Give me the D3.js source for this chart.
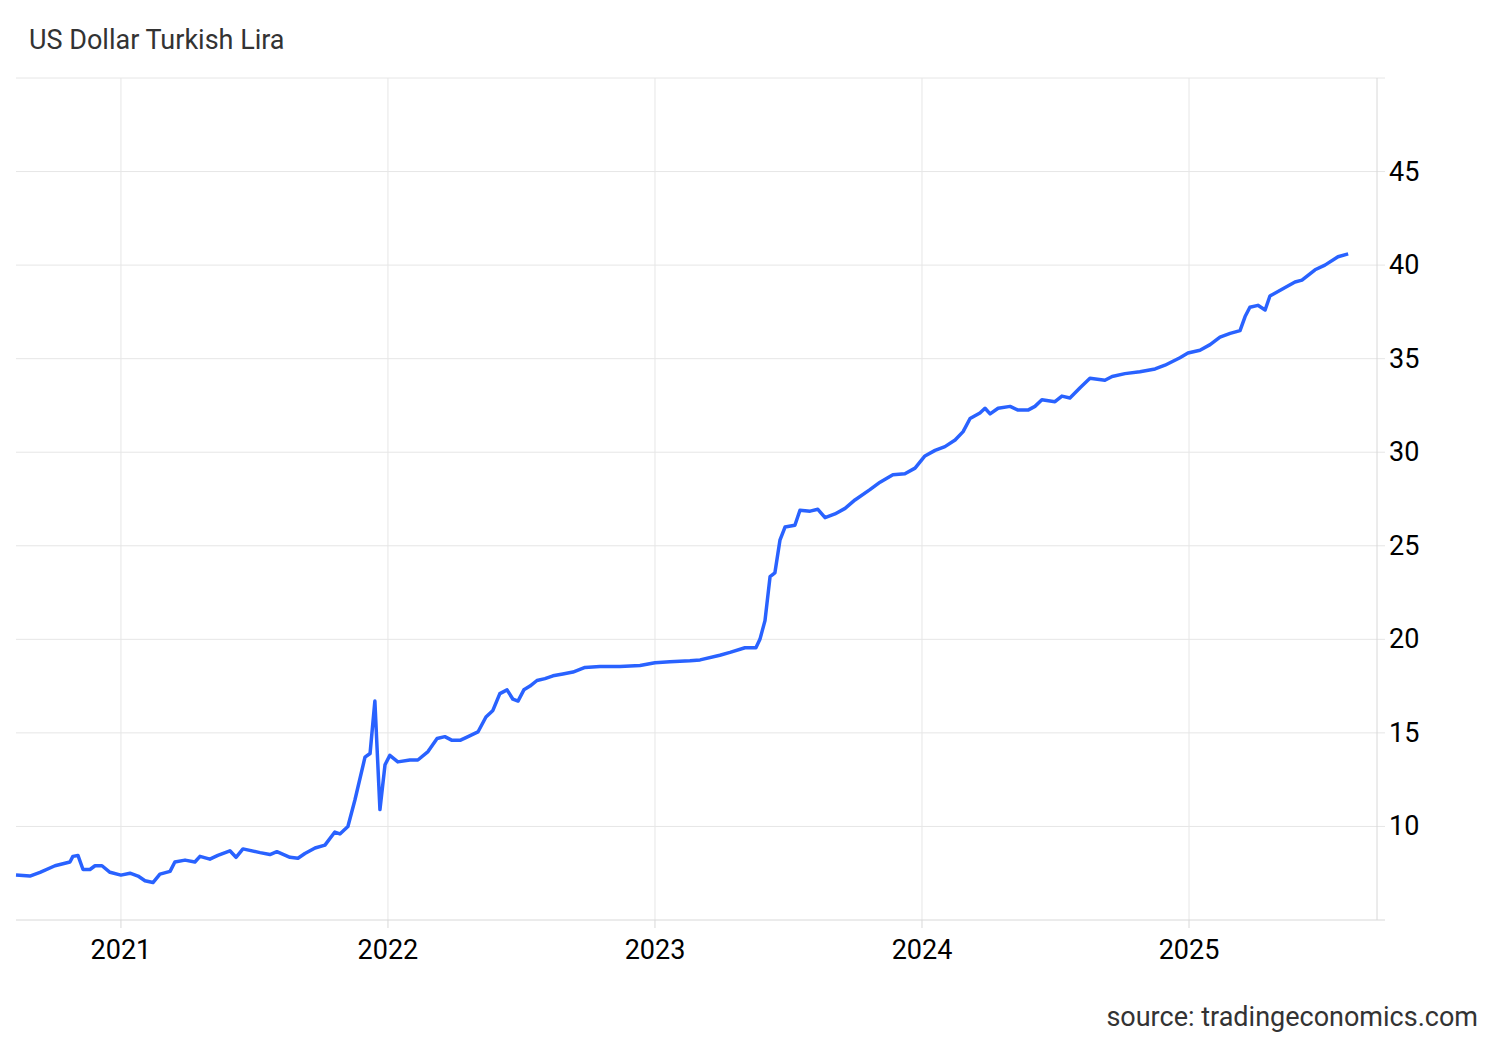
<!DOCTYPE html>
<html>
<head>
<meta charset="utf-8">
<script src="https://cdn.jsdelivr.net/npm/d3@7"></script>
<style>
  body { margin: 0; background: #fff; }
  text { font-family: Roboto, "Liberation Sans", sans-serif; }
</style>
</head>
<body>
<div id="chart"></div>
<script>
// decimal years of each reading
const years = [
  2020.607, 2020.659, 2020.697, 2020.753, 2020.809, 2020.820, 2020.839, 2020.858, 2020.884, 2020.903,
  2020.929, 2020.959, 2021.000, 2021.034, 2021.064, 2021.090, 2021.120, 2021.146, 2021.184, 2021.202,
  2021.240, 2021.277, 2021.296, 2021.333, 2021.363, 2021.408, 2021.431, 2021.457, 2021.521, 2021.558,
  2021.584, 2021.633, 2021.663, 2021.689, 2021.727, 2021.764, 2021.801, 2021.820, 2021.850, 2021.876,
  2021.914, 2021.933, 2021.951, 2021.970, 2021.989, 2022.007, 2022.037, 2022.082, 2022.112, 2022.150,
  2022.184, 2022.213, 2022.240, 2022.270, 2022.300, 2022.337, 2022.367, 2022.393, 2022.419, 2022.446,
  2022.468, 2022.487, 2022.509, 2022.532, 2022.558, 2022.588, 2022.618, 2022.655, 2022.693, 2022.738,
  2022.794, 2022.869, 2022.944, 2023.000, 2023.056, 2023.131, 2023.169, 2023.243, 2023.281, 2023.337,
  2023.378, 2023.393, 2023.412, 2023.431, 2023.449, 2023.468, 2023.487, 2023.524, 2023.543, 2023.581,
  2023.610, 2023.637, 2023.674, 2023.712, 2023.749, 2023.805, 2023.843, 2023.891, 2023.936, 2023.974,
  2024.011, 2024.049, 2024.086, 2024.124, 2024.154, 2024.180, 2024.217, 2024.236, 2024.255, 2024.285,
  2024.330, 2024.360, 2024.397, 2024.423, 2024.449, 2024.498, 2024.524, 2024.554, 2024.592, 2024.629,
  2024.685, 2024.712, 2024.760, 2024.816, 2024.873, 2024.910, 2024.966, 2024.996, 2025.041, 2025.079,
  2025.116, 2025.154, 2025.191, 2025.210, 2025.228, 2025.258, 2025.285, 2025.303, 2025.360, 2025.397,
  2025.423, 2025.472, 2025.509, 2025.558, 2025.596
];
const rates = [
  7.4, 7.35, 7.55, 7.9, 8.1, 8.4, 8.45, 7.7, 7.7, 7.9,
  7.9, 7.55, 7.4, 7.5, 7.35, 7.1, 7.0, 7.45, 7.6, 8.1,
  8.2, 8.1, 8.4, 8.25, 8.45, 8.7, 8.35, 8.8, 8.6, 8.5,
  8.65, 8.35, 8.3, 8.55, 8.85, 9.0, 9.7, 9.6, 10.0, 11.4,
  13.7, 13.9, 16.7, 10.9, 13.3, 13.8, 13.45, 13.55, 13.55, 14.0,
  14.7, 14.8, 14.6, 14.6, 14.8, 15.05, 15.85, 16.2, 17.1, 17.3,
  16.8, 16.7, 17.3, 17.5, 17.8, 17.9, 18.05, 18.15, 18.25, 18.5,
  18.55, 18.55, 18.6, 18.75, 18.8, 18.85, 18.9, 19.15, 19.3, 19.55,
  19.55, 20.0, 21.0, 23.35, 23.55, 25.3, 26.0, 26.1, 26.9, 26.85,
  26.95, 26.5, 26.7, 27.0, 27.45, 28.0, 28.4, 28.8, 28.85, 29.15,
  29.8, 30.1, 30.3, 30.65, 31.1, 31.8, 32.1, 32.35, 32.05, 32.35,
  32.45, 32.25, 32.25, 32.45, 32.8, 32.7, 33.0, 32.9, 33.45, 33.95,
  33.85, 34.05, 34.2, 34.3, 34.45, 34.65, 35.05, 35.3, 35.45, 35.75,
  36.15, 36.35, 36.5, 37.25, 37.75, 37.85, 37.6, 38.35, 38.8, 39.1,
  39.2, 39.75, 40.0, 40.45, 40.6
];
const yearTicks = [2021, 2022, 2023, 2024, 2025];
const valueTicks = [10, 15, 20, 25, 30, 35, 40, 45];

const width = 1500, height = 1040;
const plotLeft = 16, plotRight = 1377, plotTop = 78, plotBottom = 920;

const svg = d3.select("#chart").append("svg")
  .attr("width", width).attr("height", height);

const x = d3.scaleLinear().domain([2020.607, 2025.704]).range([plotLeft, plotRight]);
const y = d3.scaleLinear().domain([5, 50]).range([plotBottom, plotTop]);

// grid
svg.append("g").selectAll("line")
  .data(yearTicks).enter().append("line")
  .attr("x1", d => x(d)).attr("x2", d => x(d))
  .attr("y1", plotTop).attr("y2", plotBottom)
  .attr("stroke", "#e6e6e6");

svg.append("g").selectAll("line")
  .data(valueTicks.concat([50])).enter().append("line")
  .attr("x1", plotLeft).attr("x2", plotRight + 8)
  .attr("y1", d => y(d)).attr("y2", d => y(d))
  .attr("stroke", "#e6e6e6");

svg.append("line")
  .attr("x1", plotLeft).attr("x2", plotRight + 8)
  .attr("y1", plotBottom).attr("y2", plotBottom)
  .attr("stroke", "#d8d8d8");
svg.append("line")
  .attr("x1", plotRight).attr("x2", plotRight)
  .attr("y1", plotTop).attr("y2", plotBottom)
  .attr("stroke", "#d8d8d8");

// x tick marks + labels
svg.append("g").selectAll("line")
  .data(yearTicks).enter().append("line")
  .attr("x1", d => x(d)).attr("x2", d => x(d))
  .attr("y1", plotBottom).attr("y2", plotBottom + 8)
  .attr("stroke", "#d8d8d8");

svg.append("g").selectAll("text")
  .data(yearTicks).enter().append("text")
  .attr("x", d => x(d)).attr("y", 959)
  .attr("text-anchor", "middle")
  .attr("font-size", "27px").attr("fill", "#000")
  .text(d => d);

svg.append("g").selectAll("text")
  .data(valueTicks).enter().append("text")
  .attr("x", 1389).attr("y", d => y(d) + 9)
  .attr("font-size", "27px").attr("fill", "#000")
  .text(d => d);

// line
const line = d3.line()
  .x((d, i) => x(years[i]))
  .y(d => y(d));

svg.append("path")
  .datum(rates)
  .attr("d", line)
  .attr("fill", "none")
  .attr("stroke", "#2962ff")
  .attr("stroke-width", 3.5)
  .attr("stroke-linejoin", "round");

svg.append("text")
  .attr("x", 29).attr("y", 49)
  .attr("font-size", "27px").attr("fill", "#333")
  .text("US Dollar Turkish Lira");

svg.append("text")
  .attr("x", 1478).attr("y", 1026)
  .attr("text-anchor", "end")
  .attr("font-size", "27px").attr("fill", "#333")
  .text("source: tradingeconomics.com");
</script>
</body>
</html>
